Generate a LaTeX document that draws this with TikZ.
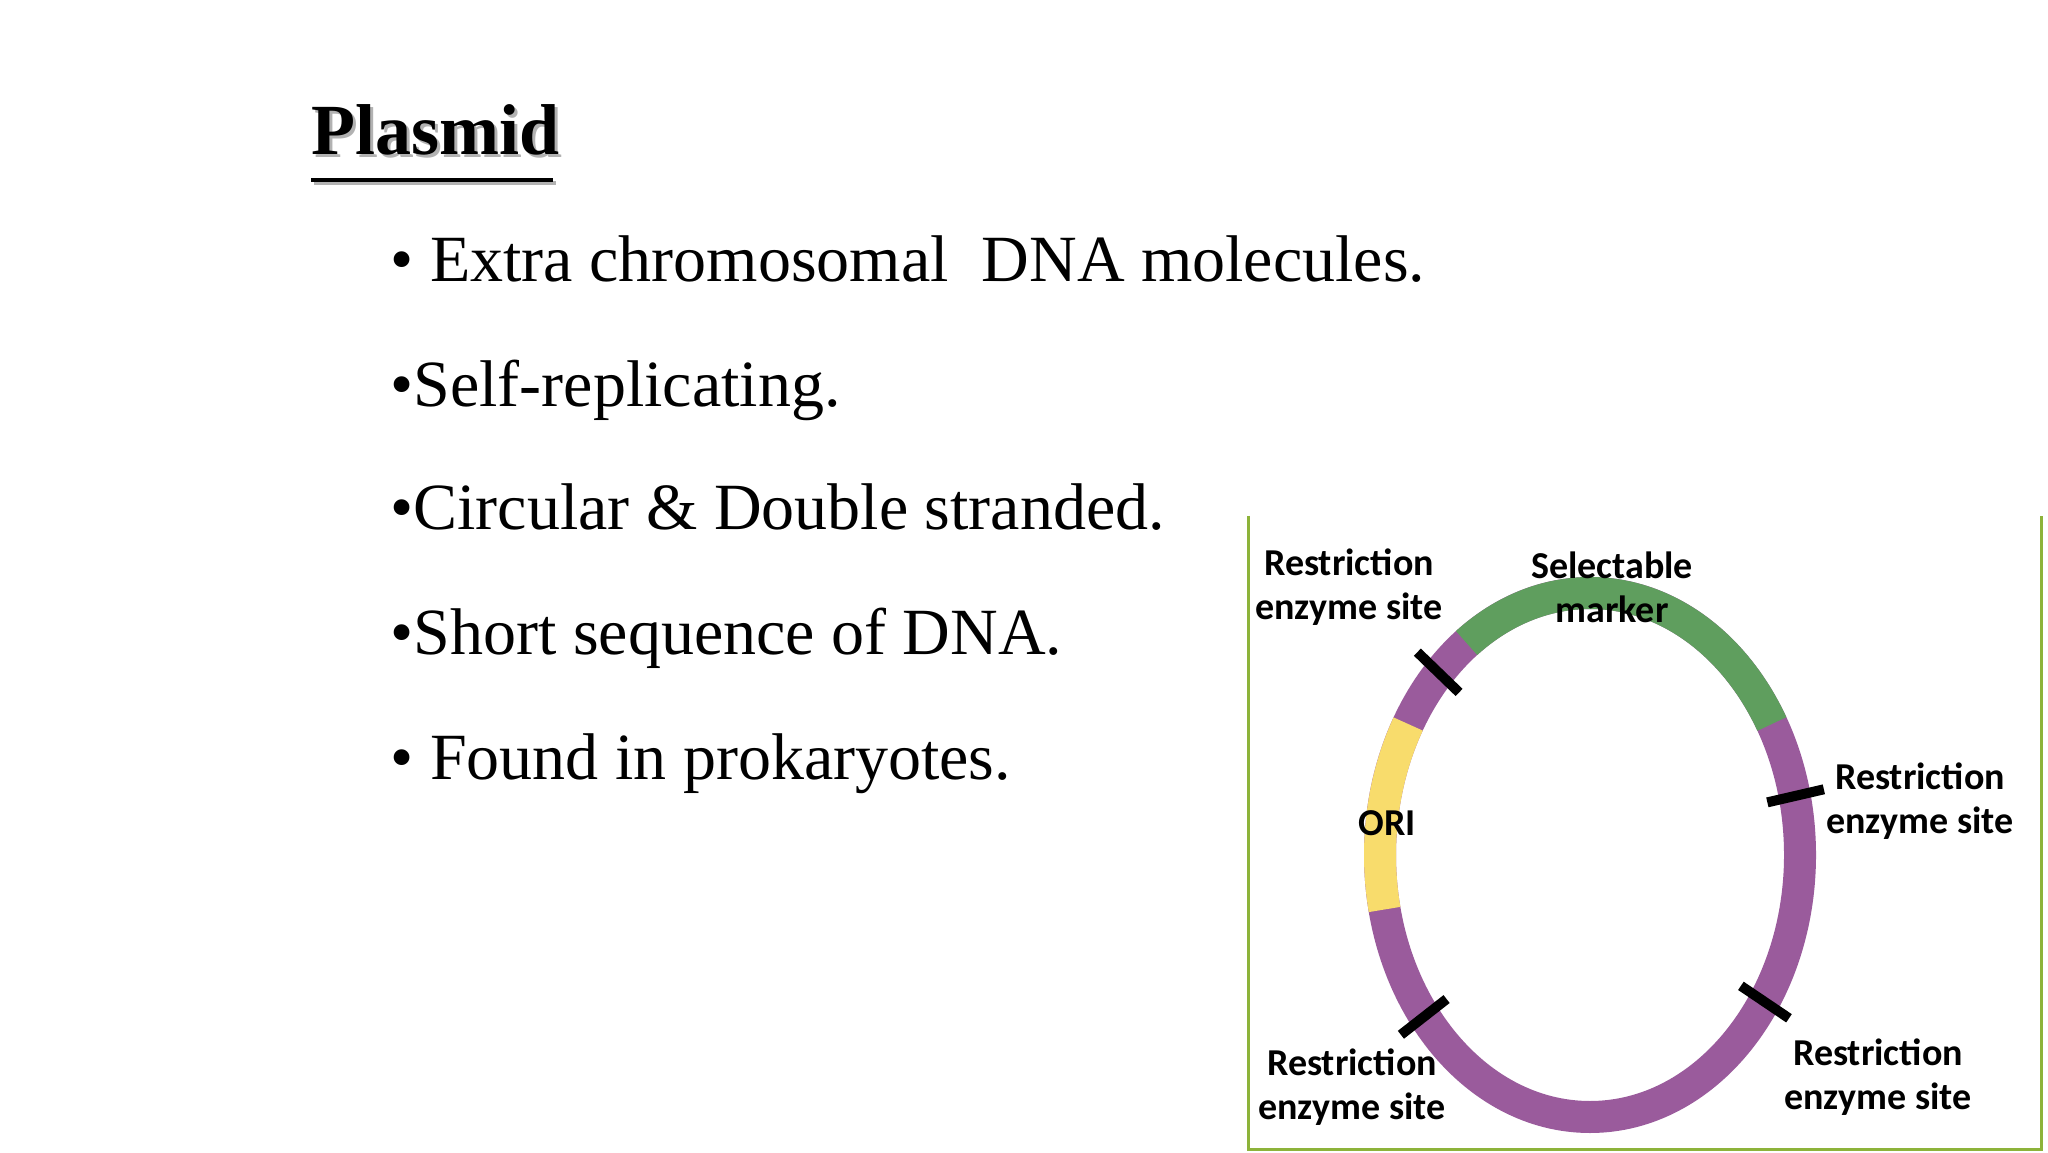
\documentclass[tikz,border=0pt]{standalone}
\usepackage{fontspec}
\setmainfont{Liberation Serif}
\newfontfamily\lab{Carlito}
\definecolor{plpurple}{HTML}{9A5B9C}
\definecolor{plgreen}{HTML}{5F9E5E}
\definecolor{plyellow}{HTML}{F8DC6C}
\definecolor{boxgreen}{HTML}{8DB33A}
\tikzset{
 bul/.style={anchor=base west,inner sep=0pt,font=\fontsize{33}{38}\selectfont},
 lbl/.style={align=center,inner sep=0pt,font=\lab\bfseries\fontsize{19}{22}\selectfont},
 tick/.style={line width=5pt,black},
 ring/.style={line width=16pt}
}
\begin{document}
\begin{tikzpicture}[x=0.5pt,y=0.5pt]
\useasboundingbox (0,0) rectangle (2048,1152);
\fill[white] (0,0) rectangle (2048,1152);
% title
\node[anchor=base west,inner sep=0pt,text=gray!60,font=\bfseries\fontsize{36}{42}\selectfont] (tsh) at (314,994) {Plasmid};
\node[anchor=base west,inner sep=0pt,font=\bfseries\fontsize{36}{42}\selectfont] (title) at (311,997) {Plasmid};
\draw[gray!60,line width=2pt] (314,969) -- (556,969);
\draw[black,line width=2pt] (311,972) -- (553,972);
% bullets
\node[bul] (b1) at (390,870) {• Extra chromosomal\ \ DNA molecules.};
\node[bul] (b2) at (390,745) {•Self-replicating.};
\node[bul] (b3) at (390,622) {•Circular \& Double stranded.};
\node[bul] (b4) at (390,497) {•Short sequence of DNA.};
\node[bul] (b5) at (390,373) {• Found in prokaryotes.};
% box
\draw[boxgreen,line width=1.5pt] (1248,636) -- (1248,3) -- (2041,3) -- (2041,636);
% plasmid ring
\coordinate (c) at (1590,297);
\draw[ring,plpurple] (c) ellipse [x radius=210,y radius=262];
\draw[ring,plgreen] ([shift={(30:210 and 262)}]c) arc [start angle=30,end angle=126,x radius=210,y radius=262];
\draw[ring,plyellow] ([shift={(150:210 and 262)}]c) arc [start angle=150,end angle=192,x radius=210,y radius=262];
\foreach \a in {136,13,218,326}{
 \draw[tick] ([shift={(\a:182 and 234)}]c) -- ([shift={(\a:240 and 292)}]c);
}
% labels
\node[lbl] (l1) at (1349,565) {Restriction\\enzyme site};
\node[lbl] (l2) at (1612,565) {Selectable\\marker};
\node[lbl] (l3) at (1920,351) {Restriction\\enzyme site};
\node[lbl] (l4) at (1387,329) {ORI};
\node[lbl] (l5) at (1352,65) {Restriction\\enzyme site};
\node[lbl] (l6) at (1878,75) {Restriction\\enzyme site};
\end{tikzpicture}
\end{document}
